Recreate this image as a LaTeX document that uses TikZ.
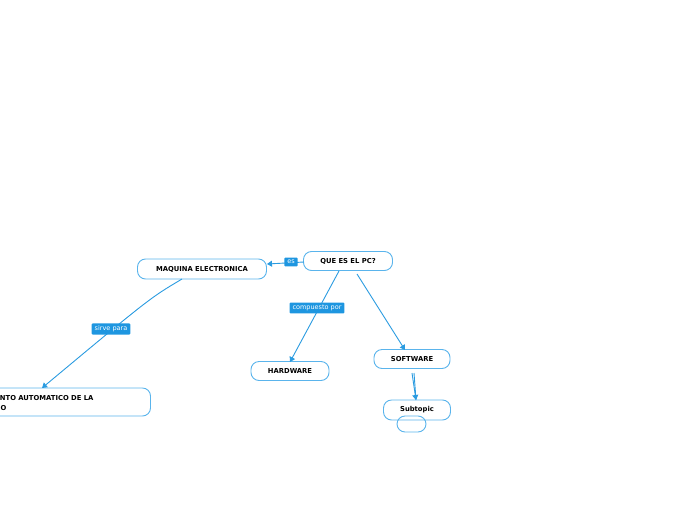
\documentclass[tikz,border=0pt]{standalone}
\usepackage{fontspec}
\setmainfont{DejaVu Sans}
\usetikzlibrary{arrows.meta}
\definecolor{ln}{HTML}{2A9BE0}
\definecolor{bx}{HTML}{5AB4EC}
\definecolor{lb}{HTML}{1E96E0}
\tikzset{
 topic/.style={draw=bx,line width=0.9pt,rounded corners=8pt,fill=white,font=\fontsize{6.8}{8}\selectfont\bfseries,inner sep=0pt},
 lab/.style={fill=lb,text=white,rounded corners=1pt,font=\fontsize{6.5}{7.5}\selectfont,inner xsep=3pt,inner ysep=2.5pt},
 conn/.style={ln,line width=0.9pt,-{Triangle[length=5pt,width=6pt]}}
}
\begin{document}
\begin{tikzpicture}[x=1pt,y=-1pt]
\useasboundingbox (0,0) rectangle (696,520);
\begin{scope}
\clip (0,0) rectangle (696,520);
\node[topic,minimum width=89pt,minimum height=19pt] (pc) at (348,261) {QUE ES EL PC?};
\node[topic,minimum width=129pt,minimum height=20pt] (maq) at (202,269) {MAQUINA ELECTRONICA};
\node[topic,minimum width=161pt,minimum height=28pt] (proc) at (70,402) {};
\node[font=\fontsize{6.8}{8}\selectfont\bfseries,anchor=east] (t1) at (97,398) {PROCESAMIENTO AUTOMATICO DE LA};
\node[font=\fontsize{6.8}{8}\selectfont\bfseries,anchor=east] (t2) at (10,408) {INFORMACIO};
\node[topic,minimum width=78pt,minimum height=19pt] (hw) at (290,371) {HARDWARE};
\node[topic,minimum width=76pt,minimum height=19pt] (sw) at (412,359) {SOFTWARE};
\node[topic,minimum width=67pt,minimum height=20pt] (sub) at (417,410) {Subtopic};
\node[topic,minimum width=29pt,minimum height=16pt,fill=none] (empty) at (411.5,424) {};
\coordinate (a1) at (304,262);
\coordinate (a2) at (182,279);
\coordinate (a3) at (339,271);
\coordinate (a4) at (357,274);
\coordinate (a5) at (412,373);
\coordinate (a6) at (414,373);
\coordinate (e1) at (267,264);
\coordinate (e2) at (42,388);
\coordinate (e3) at (290,362);
\coordinate (e4) at (405,350);
\coordinate (e5) at (416,400);
\draw[conn] (a1) -- (e1);
\draw[conn] (a2) .. controls (150,298) .. (e2);
\draw[conn] (a3) -- (e3);
\draw[conn] (a4) -- (e4);
\draw[conn] (a5) -- (e5);
\draw[ln,line width=0.9pt] (a6) -- (e5);
\node[lab] (les) at (291,262) {es};
\node[lab] (lsp) at (111,329) {sirve para};
\node[lab] (lcp) at (317,308) {compuesto por};
\end{scope}
\end{tikzpicture}
\end{document}
